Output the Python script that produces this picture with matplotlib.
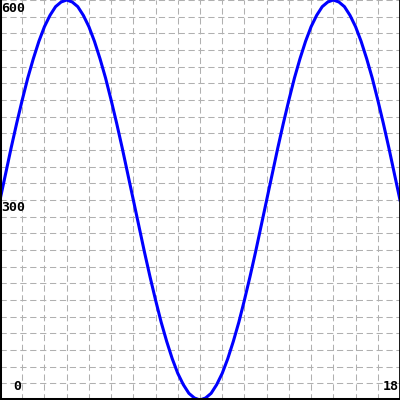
import numpy as np
import matplotlib
matplotlib.use('Agg')
import matplotlib.pyplot as plt

# values, every 0.25 on x
x_vals = np.arange(0, 18.01, 0.25)
y_vals = [300, 339, 378, 415, 450, 483, 512, 538, 560, 577, 590, 597,
          600, 597, 590, 577, 560, 538, 512, 483, 450, 415, 378, 339,
          300, 261, 222, 185, 150, 117, 88, 62, 40, 23, 10, 3,
          0, 3, 10, 23, 40, 62, 88, 117, 150, 185, 222, 261,
          300, 339, 378, 415, 450, 483, 512, 538, 560, 577, 590, 597,
          600, 597, 590, 577, 560, 538, 512, 483, 450, 415, 378, 339,
          300]

x_ticks = np.arange(0, 19, 1)
y_ticks = np.arange(0, 601, 25)
corner_labels = ['600', '300', '0', '18']

fig = plt.figure(figsize=(4, 4), dpi=100)
ax = fig.add_axes([0, 0, 1, 1])

ax.plot(x_vals, y_vals, color='#0000ff', linewidth=2.2, zorder=3)

ax.set_xlim(0, 18)
ax.set_ylim(0, 600)
ax.set_xticks(x_ticks)
ax.set_yticks(y_ticks)
ax.tick_params(length=0, labelbottom=False, labelleft=False)
ax.grid(True, color='#b0b0b0', linewidth=0.75, linestyle=(0, (6, 3.5)))
ax.set_axisbelow(True)
ax.spines['top'].set_visible(False)
ax.spines['left'].set_linewidth(2.9)
ax.spines['bottom'].set_linewidth(2.9)
ax.spines['right'].set_linewidth(2.0)
for s in ax.spines.values():
    s.set_color('black')
    s.set_zorder(4)

font = dict(family='DejaVu Sans Mono', fontsize=9.5, fontweight='bold', color='black', zorder=5)
ax.text(0.002, 0.996, corner_labels[0], transform=ax.transAxes, ha='left', va='top', **font)
ax.text(0.004, 0.482, corner_labels[1], transform=ax.transAxes, ha='left', va='center', **font)
ax.text(0.054, 0.018, corner_labels[2], transform=ax.transAxes, ha='right', va='bottom', **font)
ax.text(0.996, 0.018, corner_labels[3], transform=ax.transAxes, ha='right', va='bottom', **font)

fig.savefig('out.png', dpi=100)
